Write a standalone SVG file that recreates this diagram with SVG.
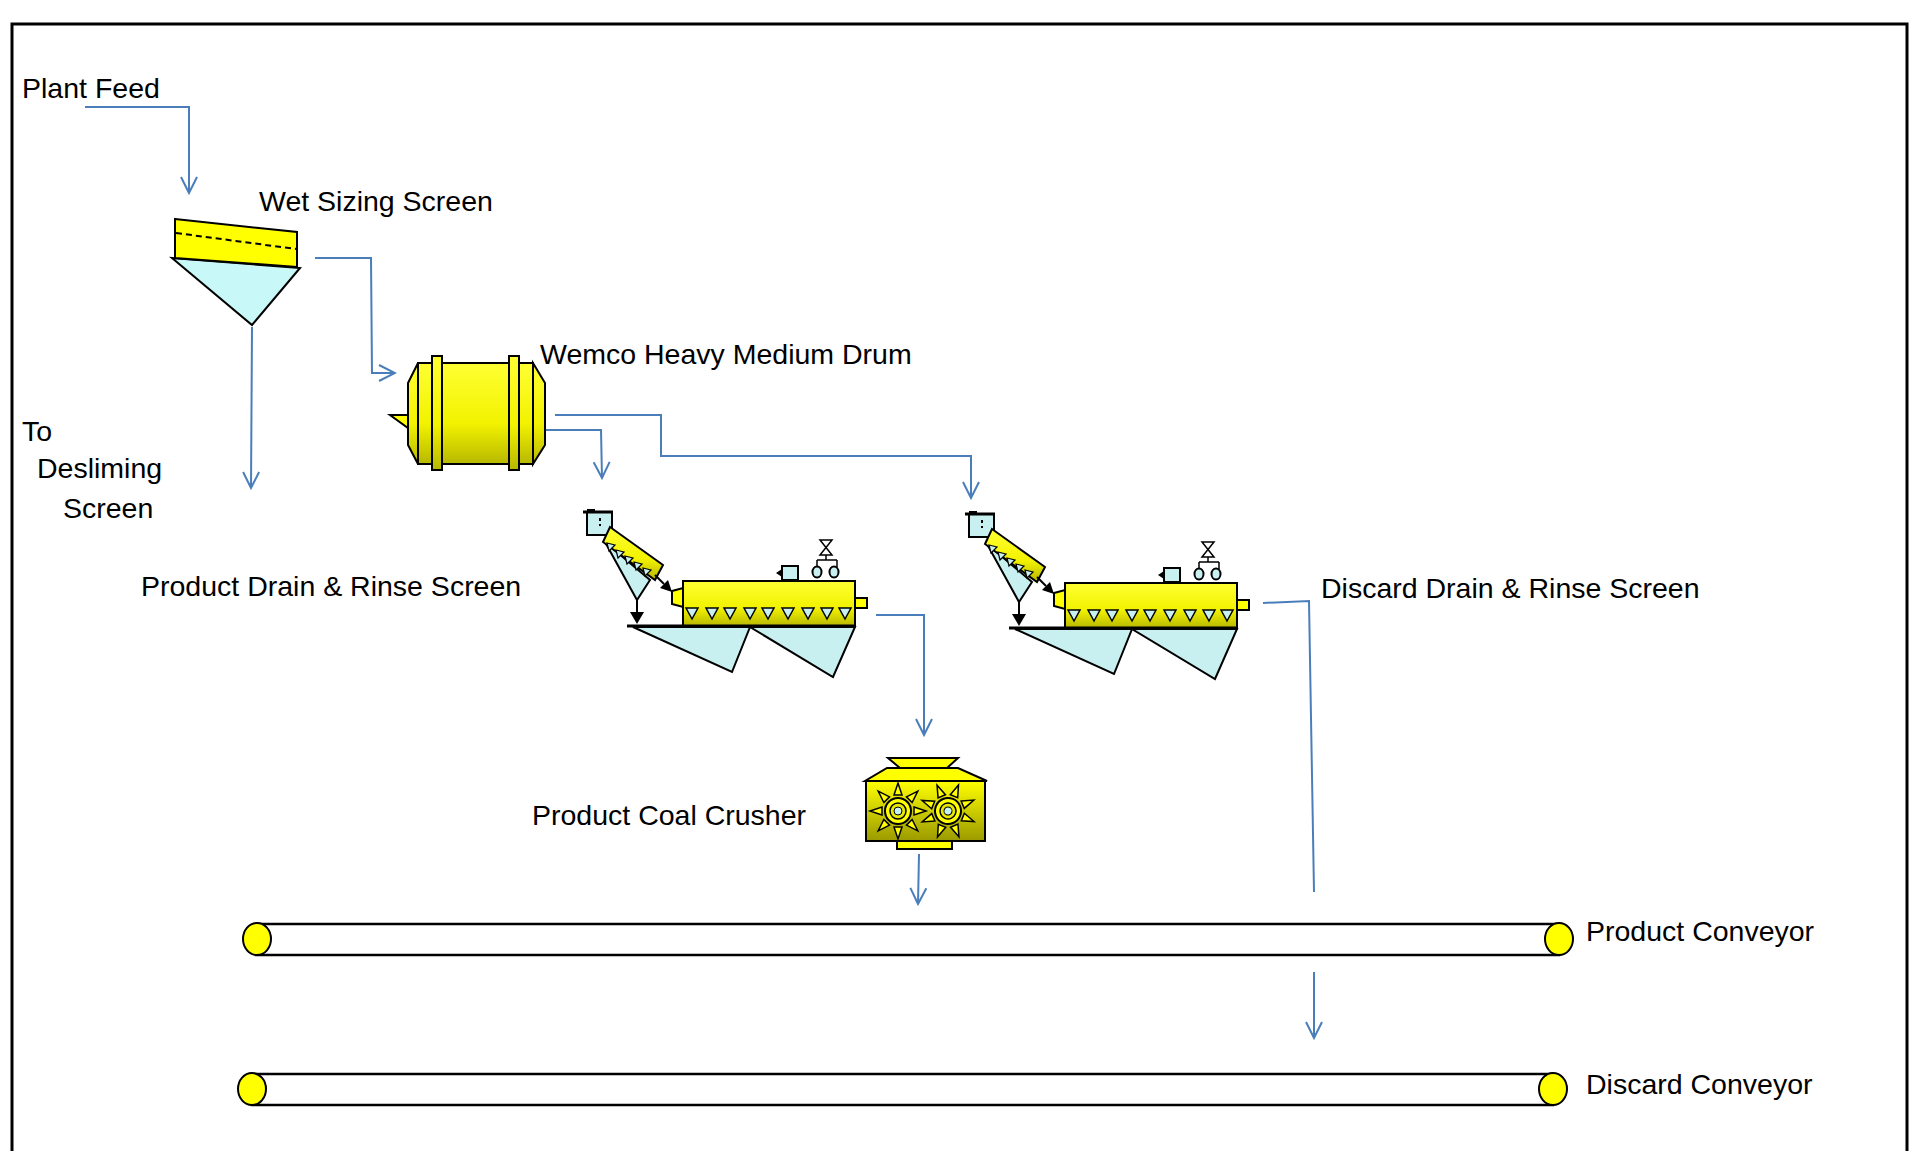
<svg xmlns="http://www.w3.org/2000/svg" width="1913" height="1151" viewBox="0 0 1913 1151">
<style>
text{font-family:"Liberation Sans",Arial,sans-serif;font-size:28.5px;fill:#000}
.flow{fill:none;stroke:#4a7ebb;stroke-width:2}
.k{stroke:#000;stroke-width:2}
.cy{fill:#c8f0f0;stroke:#000;stroke-width:2}
.y{fill:url(#yg);stroke:#000;stroke-width:2}
.yf{fill:#ffff00;stroke:#000;stroke-width:2}
</style>
<defs>
<linearGradient id="yg" x1="0" y1="0" x2="0" y2="1"><stop offset="0" stop-color="#ffff33"/><stop offset="0.6" stop-color="#f2f200"/><stop offset="1" stop-color="#b8b800"/></linearGradient>
<linearGradient id="cg" x1="0" y1="0" x2="0" y2="1"><stop offset="0" stop-color="#ffff00"/><stop offset="1" stop-color="#9a9a00"/></linearGradient>
<marker id="a" viewBox="0 0 20 20" refX="18" refY="10" markerWidth="20" markerHeight="20" markerUnits="userSpaceOnUse" orient="auto"><path d="M2,2 L18,10 L2,18" fill="none" stroke="#4a7ebb" stroke-width="2"/></marker>
<g id="gear"><circle r="13" fill="#ffff00" stroke="#000" stroke-width="2"/><circle r="8" fill="#e8e800" stroke="#000" stroke-width="1.5"/><circle r="4" fill="#c8f0f0" stroke="#000" stroke-width="1"/>
<g fill="#ffff00" stroke="#000" stroke-width="1.5"><path d="M-4,-16 L0,-28 L4,-16Z"/><path d="M-4,-16 L0,-28 L4,-16Z" transform="rotate(45)"/><path d="M-4,-16 L0,-28 L4,-16Z" transform="rotate(90)"/><path d="M-4,-16 L0,-28 L4,-16Z" transform="rotate(135)"/><path d="M-4,-16 L0,-28 L4,-16Z" transform="rotate(180)"/><path d="M-4,-16 L0,-28 L4,-16Z" transform="rotate(225)"/><path d="M-4,-16 L0,-28 L4,-16Z" transform="rotate(270)"/><path d="M-4,-16 L0,-28 L4,-16Z" transform="rotate(315)"/></g></g>
<g id="drs">
<rect x="587" y="512" width="25" height="23" class="cy"/><line x1="583" y1="512" x2="613" y2="512" stroke="#000" stroke-width="3"/><rect x="587" y="509" width="8" height="4" fill="#000"/><line x1="600" y1="518" x2="600" y2="526" stroke="#000" stroke-width="2" stroke-dasharray="3,3"/>
<path d="M605,542 L650,580 L637,600Z" class="cy"/>
<path d="M610,527 L663,565 L655,580 L603,542Z" class="y"/>
<g fill="#c8f0f0" stroke="#000" stroke-width="1.2"><path d="M607,543 L615,545 L609,551Z"/><path d="M616,550 L624,552 L618,558Z"/><path d="M625,556 L633,558 L627,564Z"/><path d="M634,562 L642,564 L636,570Z"/><path d="M643,568 L651,570 L645,576Z"/></g>
<line x1="655" y1="575" x2="664" y2="584" class="k"/><path d="M660,588 L672,592 L668,580Z" fill="#000"/>
<line x1="637" y1="600" x2="637" y2="612" class="k"/><path d="M630,612 L644,612 L637,624Z" fill="#000"/>
<path d="M672,591 L683,588 L683,607 L672,604Z" class="yf"/>
<rect x="683" y="581" width="172" height="45" class="y"/>
<rect x="855" y="598" width="12" height="10" class="yf"/>
<g fill="#c8f0f0" stroke="#000" stroke-width="1.5"><path d="M686,608 L698,608 L692,619Z"/><path d="M706,608 L718,608 L712,619Z"/><path d="M724,608 L736,608 L730,619Z"/><path d="M744,608 L756,608 L750,619Z"/><path d="M762,608 L774,608 L768,619Z"/><path d="M782,608 L794,608 L788,619Z"/><path d="M802,608 L814,608 L808,619Z"/><path d="M821,608 L833,608 L827,619Z"/><path d="M839,608 L851,608 L845,619Z"/></g>
<line x1="627" y1="626" x2="856" y2="626" stroke="#000" stroke-width="3"/>
<path d="M633,627 L750,627 L732,672Z" class="cy"/><path d="M750,627 L855,627 L833,677Z" class="cy"/>
<rect x="782" y="566" width="16" height="14" class="cy"/><path d="M776,573 L782,569 L782,577Z" fill="#000"/>
<path d="M820,540 L832,540 L820,555 L832,555Z" fill="#fff" stroke="#000" stroke-width="1.5"/>
<path d="M826,555 L826,560 M817,560 L837,560 M817,560 L817,567 M837,560 L837,567" stroke="#000" stroke-width="1.5" fill="none"/>
<ellipse cx="817" cy="572" rx="4.5" ry="5.5" class="cy" stroke-width="1.5"/><ellipse cx="834" cy="572" rx="4.5" ry="5.5" class="cy" stroke-width="1.5"/>
</g>
</defs>
<rect x="0" y="0" width="1913" height="1151" fill="#fff"/>
<rect x="12" y="24" width="1895" height="1150" fill="none" stroke="#000" stroke-width="3"/>
<g id="connectors">
<path class="flow" d="M85,107 L189,107 L189,193" marker-end="url(#a)"/>
<path class="flow" d="M315,258 L371,258 L372,373 L395,373" marker-end="url(#a)"/>
<path class="flow" d="M252,327 L251,488" marker-end="url(#a)"/>
<path class="flow" d="M555,415 L661,415 L661,456 L971,456 L971,498" marker-end="url(#a)"/>
<path class="flow" d="M544,430 L601,430 L602,478" marker-end="url(#a)"/>
<path class="flow" d="M876,615 L924,615 L924,735" marker-end="url(#a)"/>
<path class="flow" d="M919,854 L918,904" marker-end="url(#a)"/>
<path class="flow" d="M1263,603 L1309,601 L1314,892"/>
<path class="flow" d="M1314,972 L1314,1038" marker-end="url(#a)"/>
</g>
<g id="plant-feed"><text x="22" y="98">Plant Feed</text></g>
<g id="wet-sizing-screen">
<path d="M172,258 L300,268 L252,325Z" fill="#c8f8f8" stroke="#000" stroke-width="2"/>
<path d="M175,219 L297,232 L297,267 L175,258Z" class="yf"/>
<line x1="176" y1="233" x2="296" y2="249" stroke="#000" stroke-width="2" stroke-dasharray="6,4"/>
<text x="259" y="211">Wet Sizing Screen</text>
</g>
<g id="desliming"><text x="22" y="441">To</text><text x="37" y="478">Desliming</text><text x="63" y="518">Screen</text></g>
<g id="drum">
<path d="M390,415 L408,415 L408,428Z" class="yf"/>
<path d="M418,363 L408,383 L408,445 L418,464Z" class="y"/>
<path d="M533,363 L545,383 L545,445 L533,464Z" class="y"/>
<rect x="418" y="363" width="115" height="101" class="y"/>
<rect x="432" y="356" width="10" height="114" class="y"/>
<rect x="509" y="356" width="10" height="114" class="y"/>
<text x="540" y="364">Wemco Heavy Medium Drum</text>
</g>
<g id="product-drain-rinse-screen"><use href="#drs"/><text x="141" y="596">Product Drain &amp; Rinse Screen</text></g>
<g id="discard-drain-rinse-screen"><use href="#drs" transform="translate(382,2)"/><text x="1321" y="598">Discard Drain &amp; Rinse Screen</text></g>
<g id="crusher">
<path d="M888,758 L958,758 L947,768 L900,768Z" fill="#ffff00" stroke="#000" stroke-width="2"/>
<path d="M887,768 L958,768 L987,781 L865,781Z" fill="#ffff00" stroke="#000" stroke-width="2"/>
<rect x="897" y="841" width="55" height="8" fill="#ffff00" stroke="#000" stroke-width="2"/>
<rect x="866" y="781" width="119" height="60" fill="url(#cg)" stroke="#000" stroke-width="2"/>
<use href="#gear" transform="translate(898,811)"/><use href="#gear" transform="translate(948,811) rotate(22)"/>
<text x="532" y="825">Product Coal Crusher</text>
</g>
<g id="product-conveyor">
<rect x="256" y="924" width="1303" height="31" fill="#fff" stroke="#000" stroke-width="2.5"/>
<ellipse cx="257" cy="939" rx="14" ry="16" fill="#ffff00" stroke="#000" stroke-width="2"/>
<ellipse cx="1559" cy="939" rx="14" ry="16" fill="#ffff00" stroke="#000" stroke-width="2"/>
<text x="1586" y="941">Product Conveyor</text>
</g>
<g id="discard-conveyor">
<rect x="252" y="1074" width="1301" height="31" fill="#fff" stroke="#000" stroke-width="2.5"/>
<ellipse cx="252" cy="1089" rx="14" ry="16" fill="#ffff00" stroke="#000" stroke-width="2"/>
<ellipse cx="1553" cy="1089" rx="14" ry="16" fill="#ffff00" stroke="#000" stroke-width="2"/>
<text x="1586" y="1094">Discard Conveyor</text>
</g>
</svg>
